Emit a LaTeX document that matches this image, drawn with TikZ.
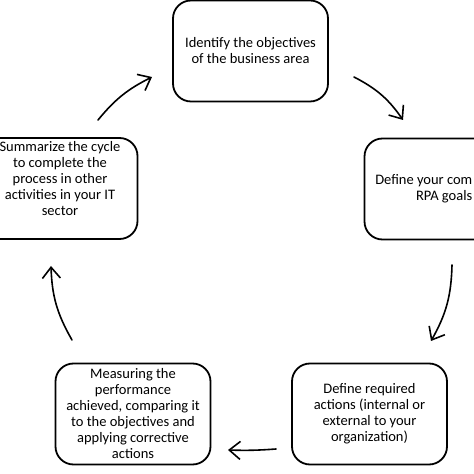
\documentclass[tikz,border=0pt]{standalone}
\usepackage{fontspec}
\setmainfont{Carlito}
\usetikzlibrary{arrows.meta}
\tikzset{
  box/.style={draw=black, line width=1.8pt, rounded corners=18pt, fill=white,
    minimum width=155pt, minimum height=101pt, inner sep=0pt, align=center,
    font=\fontsize{14.5}{16}\selectfont},
  lbl/.style={inner sep=0pt, font=\fontsize{14.5}{16}\selectfont},
  cyc/.style={draw=black, line width=1.6pt, line cap=round,
    -{Straight Barb[length=11pt,width=18pt,line width=1.6pt]}}
}
\begin{document}
\begin{tikzpicture}[x=1pt,y=1pt]
\useasboundingbox (0,0) rectangle (474,474);
\clip (0,0) rectangle (474,474);
\fill[white] (0,0) rectangle (474,474);

\node[box] (top)   at (250.5,423) {Identify the objectives\\of the business area};
\node[box] (right) at (442,285)   {};
\node[lbl, anchor=east, align=right] (rightt) at (472.5,285) {Define your com\\RPA goals};
\node[box] (left)  at (60,285.5)  {Summarize the cycle\\to complete the\\process in other\\activities in your IT\\sector\\\strut};
\node[box] (bl)    at (133,60)    {Measuring the\\performance\\achieved, comparing it\\to the objectives and\\applying corrective\\actions};
\node[box] (br)    at (369.5,60)  {Define required\\actions (internal or\\external to your\\organization)};

\coordinate (a1s) at (98,354);  \coordinate (a1e) at (152,397);
\coordinate (a2s) at (354,397); \coordinate (a2e) at (403,354);
\coordinate (a3s) at (452,209); \coordinate (a3e) at (431,133);
\coordinate (a4s) at (276,25);  \coordinate (a4e) at (228,24);
\coordinate (a5s) at (72,134);  \coordinate (a5e) at (51,208);

\draw[cyc] (a1s) to[bend left=12] (a1e);
\draw[cyc] (a2s) to[bend left=14] (a2e);
\draw[cyc] (a3s) to[bend left=14] (a3e);
\draw[cyc] (a4s) to[bend left=3] (a4e);
\draw[cyc] (a5s) to[bend left=14] (a5e);
\end{tikzpicture}
\end{document}
